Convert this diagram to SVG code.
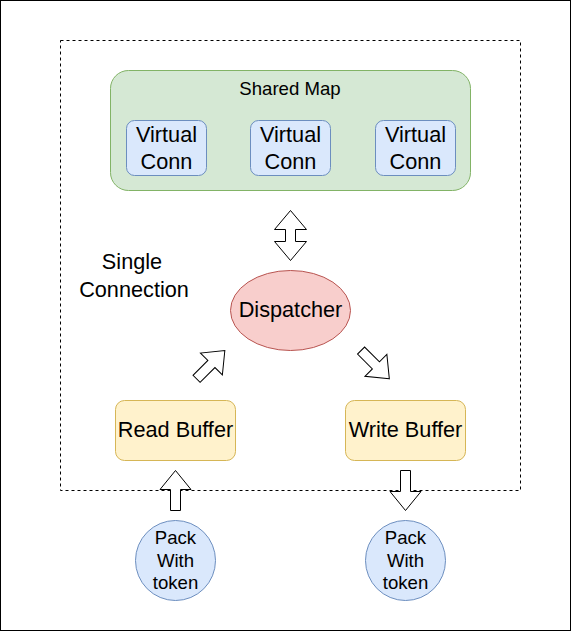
<svg xmlns="http://www.w3.org/2000/svg" width="571" height="631" viewBox="0 0 571 631">
<style>
text{font-family:"Liberation Sans",Arial,Helvetica,sans-serif;fill:#000;text-anchor:middle}
.big{font-size:21.7px}
.small{font-size:18.6px}
.blue{fill:#dae8fc;stroke:#6c8ebf;stroke-width:1}
.yellow{fill:#fff2cc;stroke:#d6b656;stroke-width:1}
.arrow{fill:#fff;stroke:#000;stroke-width:1;stroke-linejoin:miter}
</style>
<defs>
<path id="blk" d="M0,-20 L15.5,-1 L5,-1 L5,20 L-5,20 L-5,-1 L-15.5,-1 Z"/>
</defs>
<rect x="0.5" y="0.5" width="570" height="630" fill="#fff" stroke="#000" stroke-width="1"/>
<g id="single-connection">
<rect x="60.5" y="40.5" width="460" height="450" fill="none" stroke="#000" stroke-width="1" stroke-dasharray="3 3"/>
<text class="big" x="132" y="269">Single</text>
<text class="big" x="134" y="297">Connection</text>
</g>
<g id="shared-map">
<rect x="110.5" y="70.5" width="360" height="120" rx="18" fill="#d5e8d4" stroke="#82b366" stroke-width="1"/>
<text class="small" x="290" y="95">Shared Map</text>
</g>
<g id="vc1">
<rect class="blue" x="126.5" y="120.5" width="80" height="55" rx="8"/>
<text class="big" x="166.5" y="142">Virtual</text>
<text class="big" x="166.5" y="169">Conn</text>
</g>
<g id="vc2">
<rect class="blue" x="250.5" y="120.5" width="80" height="55" rx="8"/>
<text class="big" x="290.5" y="142">Virtual</text>
<text class="big" x="290.5" y="169">Conn</text>
</g>
<g id="vc3">
<rect class="blue" x="375.5" y="120.5" width="80" height="55" rx="8"/>
<text class="big" x="415.5" y="142">Virtual</text>
<text class="big" x="415.5" y="169">Conn</text>
</g>
<g id="dispatcher">
<ellipse cx="290.5" cy="310.5" rx="60" ry="40" fill="#f8cecc" stroke="#b85450" stroke-width="1"/>
<text class="big" x="290.5" y="317">Dispatcher</text>
</g>
<g id="read-buffer">
<rect class="yellow" x="115.5" y="400.5" width="120" height="60" rx="9"/>
<text class="big" x="175.5" y="437">Read Buffer</text>
</g>
<g id="write-buffer">
<rect class="yellow" x="345.5" y="400.5" width="120" height="60" rx="9"/>
<text class="big" x="405.5" y="437">Write Buffer</text>
</g>
<g id="pack-in">
<circle class="blue" cx="175.5" cy="560.5" r="40"/>
<text class="small" x="175.5" y="544">Pack</text>
<text class="small" x="175.5" y="566.5">With</text>
<text class="small" x="175.5" y="589">token</text>
</g>
<g id="pack-out">
<circle class="blue" cx="405.5" cy="560.5" r="40"/>
<text class="small" x="405.5" y="544">Pack</text>
<text class="small" x="405.5" y="566.5">With</text>
<text class="small" x="405.5" y="589">token</text>
</g>
<g id="connectors">
<path class="arrow" d="M290.5,210.5 L306.5,229.5 L295.5,229.5 L295.5,241.5 L306.5,241.5 L290.5,260.5 L274.5,241.5 L285.5,241.5 L285.5,229.5 L274.5,229.5 Z"/>
<use href="#blk" class="arrow" transform="translate(210.7,364.7) rotate(45)"/>
<use href="#blk" class="arrow" transform="translate(375.2,364.7) rotate(135)"/>
<use href="#blk" class="arrow" transform="translate(175.5,490.5)"/>
<use href="#blk" class="arrow" transform="translate(405.5,490.5) rotate(180)"/>
</g>
</svg>
